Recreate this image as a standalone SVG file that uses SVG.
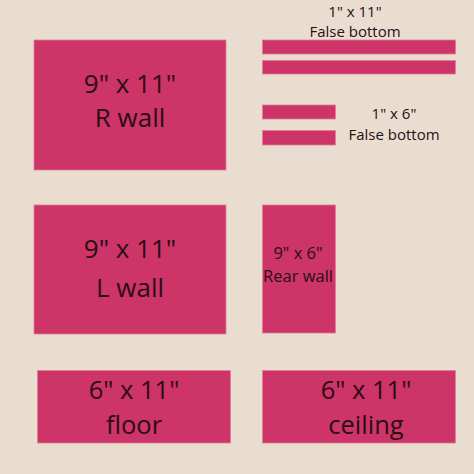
<svg xmlns="http://www.w3.org/2000/svg" width="474" height="474" viewBox="0 0 474 474">
<style>
.p{fill:#cd3468;stroke:#e4799a;stroke-width:0.8}
.t{font-family:"Open Sans","Noto Sans",sans-serif;fill:#2a0d16;text-anchor:middle}
.big{font-size:26px}
.mid{font-size:25.5px}
.sm{font-size:15px}
.rw{font-size:16.5px}
</style>
<rect width="474" height="474" fill="#e9ddcf"/>
<g id="rwall"><rect class="p" x="34" y="40" width="192" height="130"/>
<text class="t big" x="130" y="93">9" x 11"</text><text class="t big" x="130" y="127">R wall</text></g>
<g id="lwall"><rect class="p" x="34" y="205" width="192" height="129"/>
<text class="t big" x="130" y="258">9" x 11"</text><text class="t big" x="130" y="297">L wall</text></g>
<g id="rear"><rect class="p" x="262.5" y="205" width="73" height="128"/>
<text class="t rw" x="298" y="259">9" x 6"</text><text class="t rw" x="298" y="282">Rear wall</text></g>
<g id="fb11"><rect class="p" x="262.5" y="40" width="193" height="14"/><rect class="p" x="262.5" y="60.5" width="193" height="13.5"/>
<text class="t sm" x="355" y="17">1" x 11"</text><text class="t sm" x="355" y="37">False bottom</text></g>
<g id="fb6"><rect class="p" x="262.5" y="105" width="73" height="14"/><rect class="p" x="262.5" y="130.5" width="73" height="14.5"/>
<text class="t sm" x="394" y="119">1" x 6"</text><text class="t sm" x="394" y="140">False bottom</text></g>
<g id="floor"><rect class="p" x="37.5" y="370.5" width="193" height="72.5"/>
<text class="t mid" x="134" y="399">6" x 11"</text><text class="t mid" x="134" y="434">floor</text></g>
<g id="ceiling"><rect class="p" x="262.5" y="370.5" width="193" height="72.5"/>
<text class="t mid" x="366" y="399">6" x 11"</text><text class="t mid" x="366" y="434">ceiling</text></g>
<g id="connectors"/>
</svg>
